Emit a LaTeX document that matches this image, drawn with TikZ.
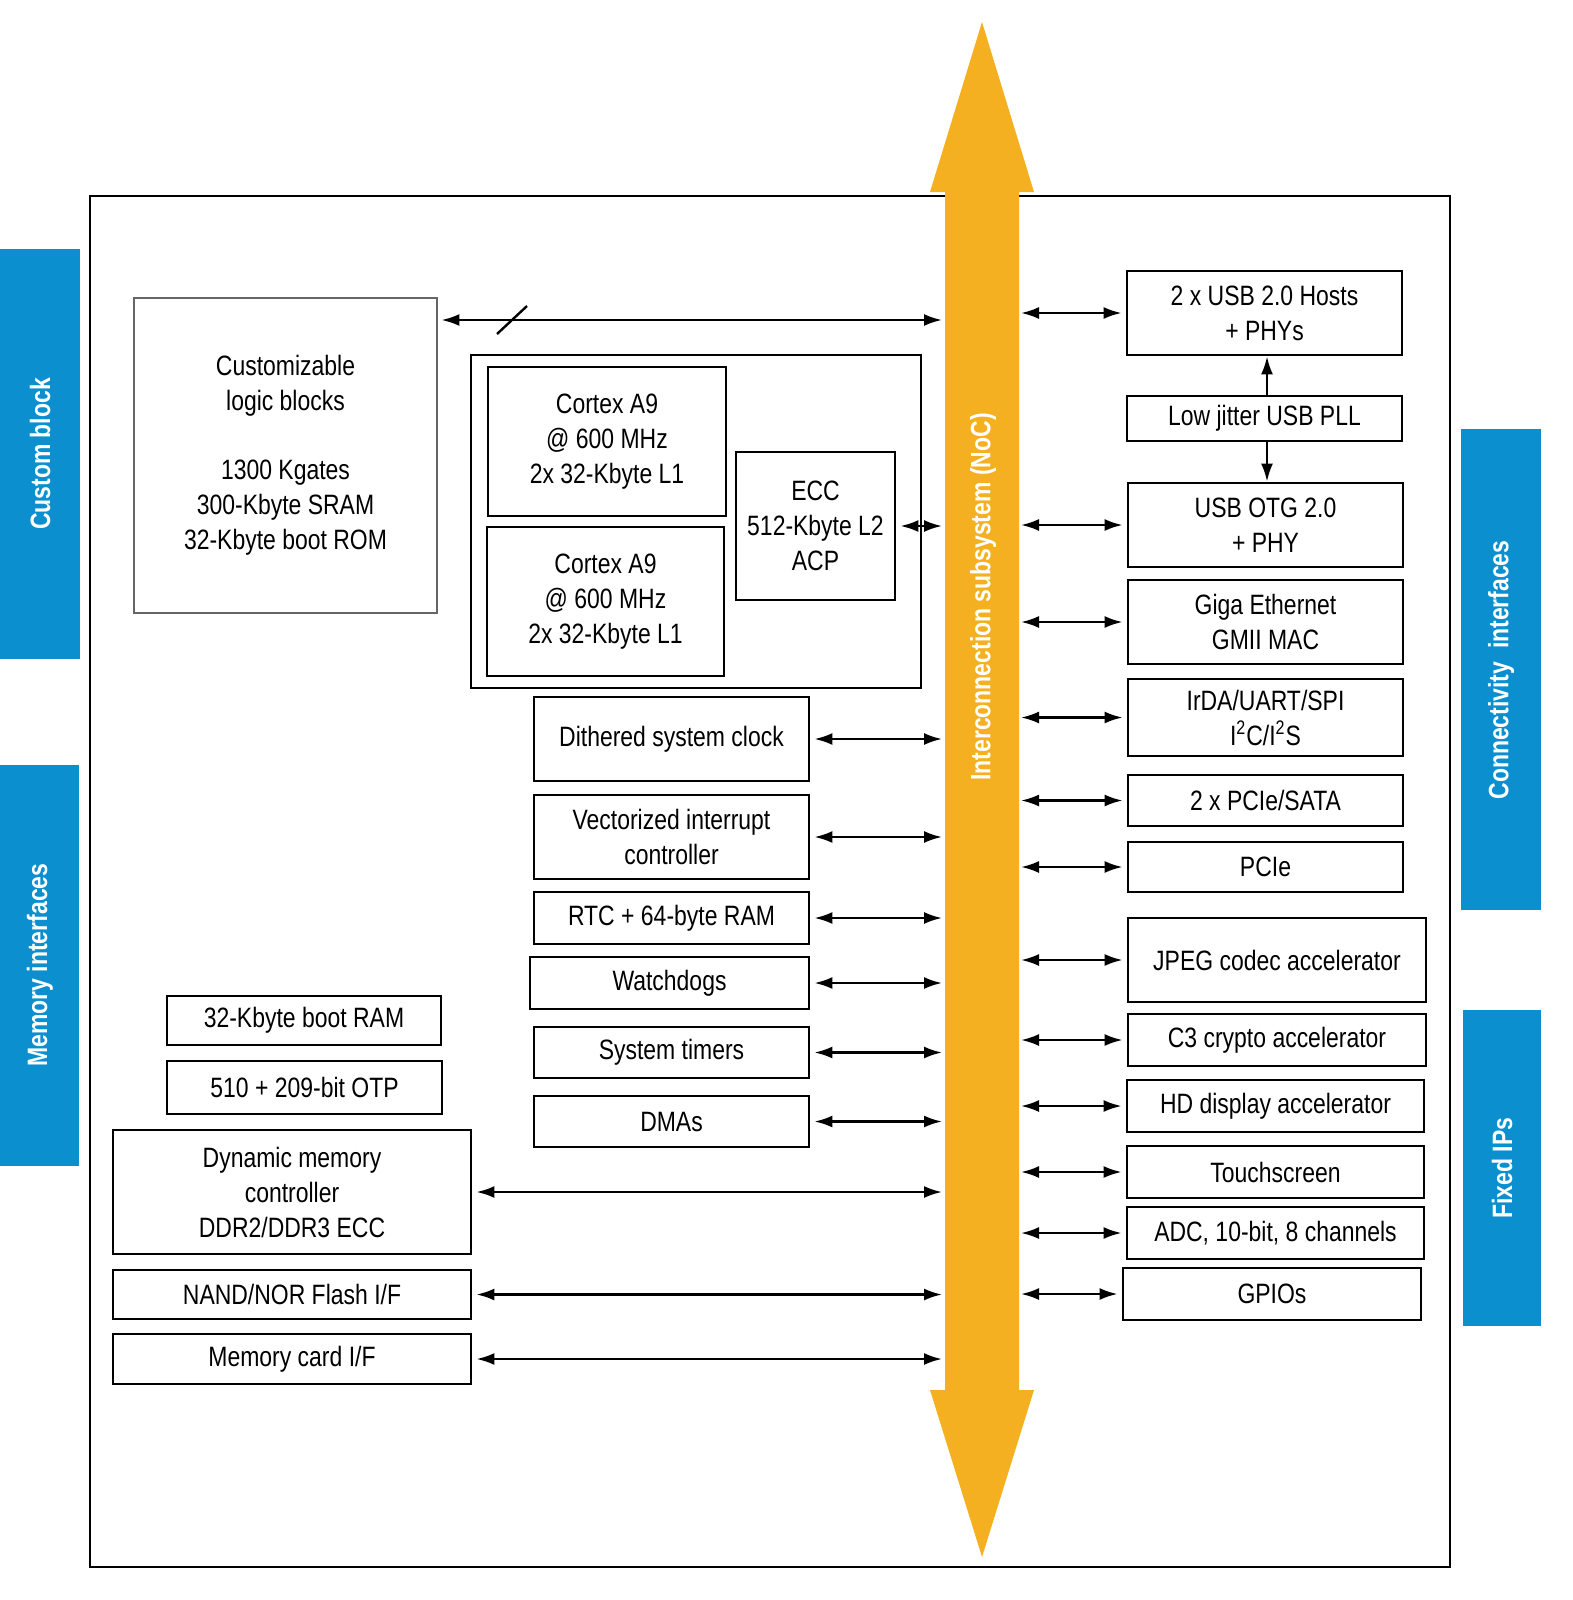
\documentclass[tikz,border=0pt]{standalone}
\usepackage{fontspec}
\setmainfont{Liberation Sans}[FakeStretch=0.82]
\usetikzlibrary{fit,arrows.meta}
\definecolor{bl}{HTML}{0B8FCF}
\definecolor{og}{HTML}{F5B021}
\tikzset{
 box/.style={draw,line width=1.4pt,inner sep=0pt},
 txt/.style={align=center,font=\fontsize{14}{17.5}\selectfont},
 bi/.style={line width=1.2pt,{Latex[length=9pt,width=6pt]}-{Latex[length=9pt,width=6pt]}},
 bar/.style={fill=bl,draw=none},
 bartxt/.style={rotate=90,text=white,font=\fontsize{14}{16}\selectfont\bfseries},
}
\newcommand{\mybox}[7][]{%
 \path (#3,#4) coordinate (#2-a) (#5,#6) coordinate (#2-b);
 \node[box,fit=(#2-a)(#2-b),#1] (#2) {};
 \node[txt] at (#2.center) {#7};}
\begin{document}
\begin{tikzpicture}[x=0.5pt,y=-0.5pt]
% frame
\draw[line width=1.1pt] (90,196) rectangle (1450,1567);
% side bars
\fill[bar] (0,249) rectangle (80,659);
\node[bartxt] at (40,454) {Custom block};
\fill[bar] (0,765) rectangle (79,1166);
\node[bartxt] at (40,965) {Memory interfaces};
\fill[bar] (1461,429) rectangle (1541,910);
\node[bartxt] at (1501,670) {Connectivity\ \ interfaces};
\fill[bar] (1463,1010) rectangle (1541,1326);
\node[bartxt] at (1502,1168) {Fixed IPs};
% bus
\fill[og] (945,192) -- (930,192) -- (982,22) -- (1034,192) -- (1019,192) -- (1019,1390) -- (1034,1390) -- (982,1557) -- (930,1390) -- (945,1390) -- cycle;
\node[bartxt] at (983,597) {Interconnection subsystem (NoC)};
\coordinate (busL) at (942,0);
\coordinate (busR) at (1021,0);
% left blocks
\mybox[draw=gray!80!black]{cust}{134}{298}{437}{613}{Customizable\\logic blocks\\[17pt]1300 Kgates\\300-Kbyte SRAM\\32-Kbyte boot ROM}
\mybox{clus}{471}{355}{921}{688}{}
\mybox{ca1}{488}{367}{726}{516}{Cortex A9\\@ 600 MHz\\2x 32-Kbyte L1}
\mybox{ca2}{487}{527}{724}{676}{Cortex A9\\@ 600 MHz\\2x 32-Kbyte L1}
\mybox{ecc}{736}{452}{895}{600}{ECC\\512-Kbyte L2\\ACP}
\mybox{dith}{534}{697}{809}{781}{Dithered system clock}
\mybox{vic}{534}{795}{809}{879}{Vectorized interrupt\\controller}
\mybox{rtc}{534}{892}{809}{944}{RTC + 64-byte RAM}
\mybox{wd}{530}{957}{809}{1009}{Watchdogs}
\mybox{tim}{534}{1027}{809}{1078}{System timers}
\mybox{dma}{534}{1096}{809}{1147}{DMAs}
\mybox{bram}{167}{996}{441}{1045}{32-Kbyte boot RAM}
\mybox{otp}{167}{1061}{442}{1114}{510 + 209-bit OTP}
\mybox{dyn}{113}{1130}{471}{1254}{Dynamic memory\\controller\\DDR2/DDR3 ECC}
\mybox{nand}{113}{1270}{471}{1319}{NAND/NOR Flash I/F}
\mybox{mcard}{113}{1334}{471}{1384}{Memory card I/F}
% right blocks
\mybox{usbh}{1127}{271}{1402}{355}{2 x USB 2.0 Hosts\\+ PHYs}
\mybox{pll}{1127}{396}{1402}{441}{Low jitter USB PLL}
\mybox{otg}{1128}{483}{1403}{567}{USB OTG 2.0\\+ PHY}
\mybox{gig}{1128}{580}{1403}{664}{Giga Ethernet\\GMII MAC}
\mybox{irda}{1128}{679}{1403}{756}{IrDA/UART/SPI\\I\textsuperscript{2}C/I\textsuperscript{2}S}
\mybox{sata}{1128}{775}{1403}{826}{2 x PCIe/SATA}
\mybox{pcie}{1128}{842}{1403}{892}{PCIe}
\mybox{jpeg}{1128}{918}{1426}{1002}{JPEG codec accelerator}
\mybox{c3}{1128}{1014}{1426}{1066}{C3 crypto accelerator}
\mybox{hd}{1127}{1080}{1424}{1132}{HD display accelerator}
\mybox{touch}{1127}{1146}{1424}{1198}{Touchscreen}
\mybox{adc}{1127}{1207}{1424}{1259}{ADC, 10-bit, 8 channels}
\mybox{gpio}{1123}{1268}{1421}{1320}{GPIOs}
% left connectors
\coordinate (cy) at (0,320);
\draw[bi] ([xshift=1.5pt]cust.east |- cy) -- (busL |- cy);
\draw[line width=1.2pt] (497,334) -- (527,306);
\draw[bi] ([xshift=2pt]ecc.east) -- (busL |- ecc.east);
\foreach \n in {dith,vic,rtc,wd,tim,dma,dyn,nand,mcard}
  \draw[bi] ([xshift=2pt]\n.east) -- (busL |- \n.east);
% right connectors
\foreach \n in {usbh,otg,gig,irda,sata,pcie,jpeg,c3,hd,touch,adc,gpio}
  \draw[bi] (busR |- \n.west) -- ([xshift=-2pt]\n.west);
\draw[line width=1.2pt,-{Latex[length=9pt,width=6pt]}] (pll.north -| 1267,0) -- (usbh.south -| 1267,0);
\draw[line width=1.2pt,-{Latex[length=9pt,width=6pt]}] (pll.south -| 1267,0) -- (otg.north -| 1267,0);
\pgfresetboundingbox
\path (0,0) rectangle (1573,1600);
\end{tikzpicture}
\end{document}
